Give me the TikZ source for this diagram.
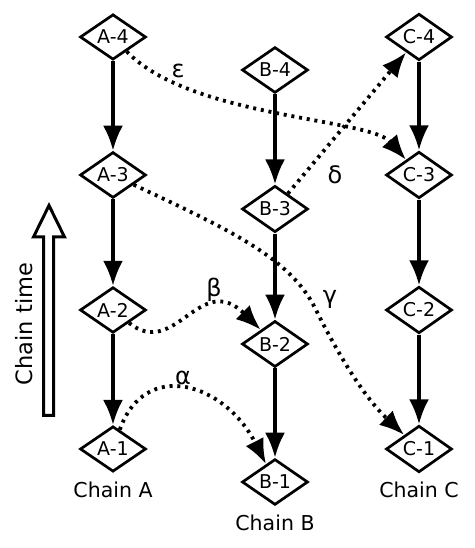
\documentclass[tikz,border=0pt]{standalone}
\usepackage{fontspec}
\setmainfont{DejaVu Sans}
\usetikzlibrary{shapes.geometric,arrows.meta}

\begin{document}
\begin{tikzpicture}[x=1pt,y=1pt,
    state/.style={draw, diamond, line width=2.7pt, minimum width=66pt, minimum height=44pt,
      inner sep=0pt, font=\fontsize{19}{22}\selectfont},
    tip/.style={-{Latex[length=25pt,width=20pt]}},
    step link/.style={tip, line width=3.5pt},
    swap link/.style={tip, line width=3.8pt, dash pattern=on 3pt off 4.8pt},
    tag/.style={font=\fontsize{20.5}{24}\selectfont},
    greek/.style={font=\fontsize{24}{28}\selectfont}]
  \useasboundingbox (0,0) rectangle (474,548);

  % the three chains
  \foreach \i/\y in {1/99,2/238,3/373,4/511}
  {
    \node [state] (a\i) at (113,\y) {A-\i};
    \node [state] (c\i) at (419,\y) {C-\i};
  }
  \foreach \i/\y in {1/66,2/204,3/339,4/478}
    \node [state] (b\i) at (275,\y) {B-\i};
  \foreach \c in {a,b,c}
    \foreach \i/\j in {4/3,3/2,2/1}
      \draw [step link] (\c\i) -- (\c\j);

  \node [tag] (na) at (113,58) {Chain A};
  \node [tag] (nb) at (275,25) {Chain B};
  \node [tag] (nc) at (419,58) {Chain C};

  % swaps between chains
  \draw [swap link] (a1) .. controls (145,190) and (225,165) .. (b1);
  \draw [swap link] (a2) .. controls (175,188) and (200,278) .. (b2);
  \draw [swap link] (a3) .. controls (230,318) and (290,290) .. (315,240)
    .. controls (340,190) and (365,150) .. (c1);
  \draw [swap link] (b3) -- (c4);
  \draw [swap link] (a4) .. controls (190,430) and (370,430) .. (c3);

  \node [greek] (alpha) at (183,170) {α};
  \node [greek] (beta)  at (214,258) {β};
  \node [greek] (gamma) at (330,249) {γ};
  \node [greek] (delta) at (335,373) {δ};
  \node [greek] (eps)   at (178,477) {ε};

  % chain time arrow
  \draw [line width=3pt, line join=miter]
    (43.5,132.5) -- (43.5,311) -- (33.5,311) -- (49,342.5) -- (64.5,311)
    -- (53.5,311) -- (53.5,132.5) -- cycle;
  \node [font=\fontsize{22.5}{26}\selectfont, rotate=90] (time) at (24,224) {Chain time};
\end{tikzpicture}
\end{document}
